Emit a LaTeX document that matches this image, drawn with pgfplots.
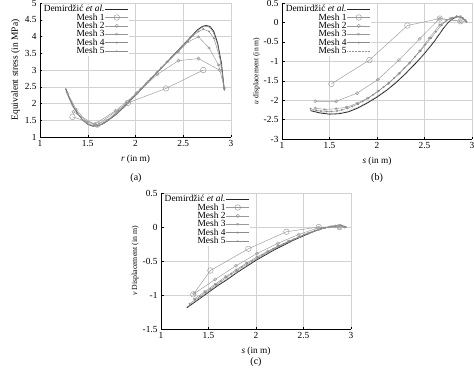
\documentclass[border=0pt]{standalone}
\usepackage{pgfplots}
\pgfplotsset{compat=1.18}
\usepackage{fontspec}
\setmainfont{Liberation Serif}
\pgfplotsset{
  myax/.style={
    scale only axis,
    axis x line=bottom, axis y line=left,
    axis line style={-, black, line width=0.5pt},
    grid=major, major grid style={gray!35, line width=0.3pt},
    tick align=inside, tick style={black, line width=0.4pt},
    major tick length=2.5pt,
    xmin=1, xmax=3, xtick={1,1.5,2,2.5,3},
    ticklabel style={font=\fontsize{9.3}{10}\selectfont},
    xlabel style={font=\fontsize{9.3}{10}\selectfont, yshift=-1pt},
    ylabel style={yshift=-3pt},
    /pgf/number format/assume math mode=true,
    legend style={at={(0.015,0.99)}, anchor=north west, draw=none, fill=white,
      font=\fontsize{9.4}{9}\selectfont, row sep=0pt, inner sep=0.3pt,
      nodes={text height=6.4pt, text depth=1.2pt, inner sep=0.4pt}},
    legend cell align=right, legend plot pos=right,
    legend image code/.code={\draw[mark repeat=2,mark phase=2] plot coordinates {(0cm,0cm)(0.4cm,0cm)(0.8cm,0cm)};},
    every axis plot/.append style={line width=0.45pt},
  },
  dem/.style={black!85, line width=0.8pt, mark=none},
  m1/.style={gray!80, mark=o, mark size=2.8pt, mark options={solid, fill=white}},
  m2/.style={gray!80, mark=o, mark size=1.6pt, mark options={solid, fill=white}},
  m3/.style={gray!80, mark=asterisk, mark size=1.5pt, mark options={solid}},
  m4/.style={gray!90, mark=*, mark size=0.7pt, mark options={solid}},
  m5/.style={gray!90, mark=*, mark size=0.35pt, mark options={solid}},
}
\begin{document}
\begin{tikzpicture}
\useasboundingbox (0,0) rectangle (474pt,-372pt);
% ---------------- (a)
\begin{axis}[myax, at={(40pt,-137pt)}, anchor=south west, width=191pt, height=134pt,
  ymin=1, ymax=5, ytick={1,1.5,...,5},
  ylabel style={font=\fontsize{9.5}{10}\selectfont, yshift=1pt},
  xlabel={\textit{r} (in m)}, ylabel={Equivalent stress (in MPa)}]
\addplot[dem] coordinates {(1.27,2.45)(1.30,2.2)(1.35,1.9)(1.40,1.68)(1.45,1.5)(1.50,1.38)(1.55,1.33)(1.60,1.33)(1.65,1.38)(1.70,1.47)(1.80,1.68)(1.90,1.95)(2.00,2.25)(2.10,2.55)(2.20,2.85)(2.30,3.15)(2.40,3.45)(2.50,3.75)(2.60,4.05)(2.65,4.2)(2.70,4.3)(2.74,4.33)(2.78,4.3)(2.82,4.15)(2.86,3.8)(2.90,3.2)(2.93,2.4)};
\addlegendentry{Demirdžić \textit{et al.}}
\addplot[m1] coordinates {(1.34,1.6)(1.6,1.37)(1.92,2.02)(2.32,2.45)(2.71,3.0)};
\addlegendentry{Mesh 1}
\addplot[m2] coordinates {(1.35,1.75)(1.57,1.38)(1.79,1.78)(2.01,2.3)(2.23,2.87)(2.45,3.28)(2.66,3.34)(2.88,3.0)};
\addlegendentry{Mesh 2}
\addplot[m3] coordinates {(1.29,2.3)(1.38,1.82)(1.49,1.45)(1.59,1.36)(1.70,1.5)(1.81,1.75)(1.91,2.02)(2.02,2.33)(2.13,2.65)(2.23,2.95)(2.34,3.25)(2.45,3.55)(2.55,3.84)(2.66,3.99)(2.77,3.66)(2.87,3.15)(2.93,2.45)};
\addlegendentry{Mesh 3}
\addplot[m4] coordinates {(1.28,2.35)(1.34,1.95)(1.39,1.7)(1.45,1.5)(1.50,1.39)(1.56,1.34)(1.61,1.35)(1.67,1.42)(1.72,1.52)(1.78,1.66)(1.83,1.79)(1.89,1.95)(1.94,2.1)(2.00,2.27)(2.05,2.43)(2.11,2.6)(2.16,2.75)(2.22,2.92)(2.27,3.07)(2.33,3.24)(2.38,3.39)(2.44,3.56)(2.49,3.71)(2.55,3.87)(2.60,4.02)(2.66,4.15)(2.71,4.22)(2.77,4.15)(2.82,3.95)(2.88,3.4)(2.93,2.45)};
\addlegendentry{Mesh 4}
\addplot[m5] coordinates {(1.27,2.42)(1.30,2.18)(1.35,1.88)(1.40,1.67)(1.45,1.5)(1.50,1.38)(1.55,1.33)(1.60,1.33)(1.65,1.38)(1.70,1.47)(1.80,1.68)(1.90,1.95)(2.00,2.25)(2.10,2.55)(2.20,2.85)(2.30,3.15)(2.40,3.45)(2.50,3.75)(2.60,4.04)(2.65,4.18)(2.70,4.28)(2.74,4.31)(2.78,4.27)(2.82,4.1)(2.86,3.75)(2.90,3.15)(2.93,2.4)};
\addlegendentry{Mesh 5}
\end{axis}
% ---------------- (b)
\begin{axis}[myax, at={(282pt,-139pt)}, anchor=south west, width=190pt, height=136pt,
  ymin=-3, ymax=0.5, ytick={-3,-2.5,...,0.5},
  ylabel style={font=\fontsize{7.6}{8}\selectfont},
  xlabel={\textit{s} (in m)}, ylabel={\textit{u} displacement (in m)}]
\addplot[dem] coordinates {(1.3,-2.27)(1.4,-2.33)(1.5,-2.36)(1.6,-2.35)(1.7,-2.3)(1.8,-2.2)(1.9,-2.07)(2.0,-1.92)(2.1,-1.75)(2.2,-1.55)(2.3,-1.32)(2.4,-1.07)(2.5,-0.8)(2.6,-0.5)(2.7,-0.15)(2.75,0.0)(2.8,0.1)(2.85,0.15)(2.9,0.12)(2.95,0.0)};
\addlegendentry{Demirdžić \textit{et al.}}
\addplot[m1] coordinates {(1.52,-1.58)(1.92,-0.97)(2.32,-0.08)(2.66,0.1)(2.88,0.03)};
\addlegendentry{Mesh 1}
\addplot[m2] coordinates {(1.35,-2.03)(1.57,-2.03)(1.79,-1.82)(2.01,-1.47)(2.23,-0.97)(2.45,-0.42)(2.66,0.1)(2.88,0.03)};
\addlegendentry{Mesh 2}
\addplot[m3] coordinates {(1.35,-2.2)(1.45,-2.24)(1.57,-2.22)(1.68,-2.18)(1.79,-2.08)(1.9,-1.95)(2.01,-1.77)(2.12,-1.57)(2.23,-1.32)(2.34,-1.05)(2.45,-0.73)(2.55,-0.4)(2.66,-0.06)(2.77,0.1)(2.88,0.15)(2.93,0.05)};
\addlegendentry{Mesh 3}
\addplot[m4] coordinates {(1.3,-2.22)(1.36,-2.26)(1.41,-2.28)(1.47,-2.29)(1.52,-2.29)(1.58,-2.28)(1.63,-2.25)(1.69,-2.21)(1.74,-2.16)(1.8,-2.1)(1.85,-2.03)(1.91,-1.95)(1.96,-1.86)(2.02,-1.76)(2.07,-1.66)(2.13,-1.55)(2.18,-1.43)(2.24,-1.3)(2.29,-1.17)(2.35,-1.03)(2.4,-0.88)(2.46,-0.73)(2.51,-0.57)(2.57,-0.4)(2.62,-0.24)(2.68,-0.07)(2.73,0.05)(2.79,0.12)(2.84,0.16)(2.9,0.12)(2.93,0.04)};
\addlegendentry{Mesh 4}
\addplot[gray!85, densely dotted, line width=0.6pt] coordinates {(1.3,-2.25)(1.4,-2.31)(1.5,-2.34)(1.6,-2.33)(1.7,-2.28)(1.8,-2.18)(1.9,-2.05)(2.0,-1.9)(2.1,-1.73)(2.2,-1.53)(2.3,-1.3)(2.4,-1.05)(2.5,-0.78)(2.6,-0.48)(2.7,-0.13)(2.75,0.01)(2.8,0.11)(2.85,0.16)(2.9,0.13)(2.95,0.01)};
\addlegendentry{Mesh 5}
\end{axis}
% ---------------- (c)
\begin{axis}[myax, at={(161pt,-329pt)}, anchor=south west, width=190pt, height=136pt,
  ymin=-1.5, ymax=0.5, ytick={-1.5,-1,-0.5,0,0.5},
  ylabel style={font=\fontsize{7.8}{8}\selectfont},
  xlabel={\textit{s} (in m)}, ylabel={\textit{v} Displacement (in m)}]
\addplot[dem] coordinates {(1.27,-1.19)(1.4,-1.06)(1.5,-0.96)(1.6,-0.86)(1.7,-0.77)(1.8,-0.67)(1.9,-0.58)(2.0,-0.49)(2.1,-0.41)(2.2,-0.33)(2.3,-0.26)(2.4,-0.19)(2.5,-0.13)(2.6,-0.07)(2.7,-0.02)(2.8,0.01)(2.9,0.02)(2.95,0.0)};
\addlegendentry{Demirdžić \textit{et al.}}
\addplot[m1] coordinates {(1.34,-0.99)(1.52,-0.64)(1.92,-0.32)(2.32,-0.07)(2.66,0.0)(2.88,0.0)};
\addlegendentry{Mesh 1}
\addplot[m2] coordinates {(1.35,-0.98)(1.57,-0.77)(1.79,-0.57)(2.01,-0.39)(2.23,-0.24)(2.45,-0.11)(2.66,-0.01)(2.88,-0.01)};
\addlegendentry{Mesh 2}
\addplot[m3] coordinates {(1.35,-1.06)(1.46,-0.95)(1.57,-0.84)(1.68,-0.73)(1.79,-0.63)(1.9,-0.53)(2.01,-0.44)(2.12,-0.36)(2.23,-0.28)(2.34,-0.21)(2.45,-0.15)(2.55,-0.09)(2.66,-0.04)(2.77,0.0)(2.88,0.02)(2.93,0.0)};
\addlegendentry{Mesh 3}
\addplot[m4] coordinates {(1.3,-1.13)(1.36,-1.07)(1.41,-1.02)(1.47,-0.96)(1.52,-0.91)(1.58,-0.85)(1.63,-0.8)(1.69,-0.74)(1.74,-0.69)(1.8,-0.64)(1.85,-0.59)(1.91,-0.54)(1.96,-0.5)(2.02,-0.45)(2.07,-0.41)(2.13,-0.36)(2.18,-0.32)(2.24,-0.28)(2.29,-0.25)(2.35,-0.21)(2.4,-0.18)(2.46,-0.14)(2.51,-0.11)(2.57,-0.08)(2.62,-0.05)(2.68,-0.03)(2.73,-0.01)(2.79,0.01)(2.84,0.02)(2.9,0.02)(2.93,0.0)};
\addlegendentry{Mesh 4}
\addplot[m5] coordinates {(1.28,-1.17)(1.4,-1.05)(1.5,-0.95)(1.6,-0.85)(1.7,-0.76)(1.8,-0.66)(1.9,-0.57)(2.0,-0.48)(2.1,-0.4)(2.2,-0.32)(2.3,-0.25)(2.4,-0.18)(2.5,-0.12)(2.6,-0.07)(2.7,-0.02)(2.8,0.01)(2.9,0.02)(2.95,0.0)};
\addlegendentry{Mesh 5}
\end{axis}
\node[font=\fontsize{10}{11}\selectfont] at (136pt,-178pt) {(a)};
\node[font=\fontsize{10}{11}\selectfont] at (377pt,-178pt) {(b)};
\node[font=\fontsize{10}{11}\selectfont] at (256pt,-362pt) {(c)};
\end{tikzpicture}
\end{document}
